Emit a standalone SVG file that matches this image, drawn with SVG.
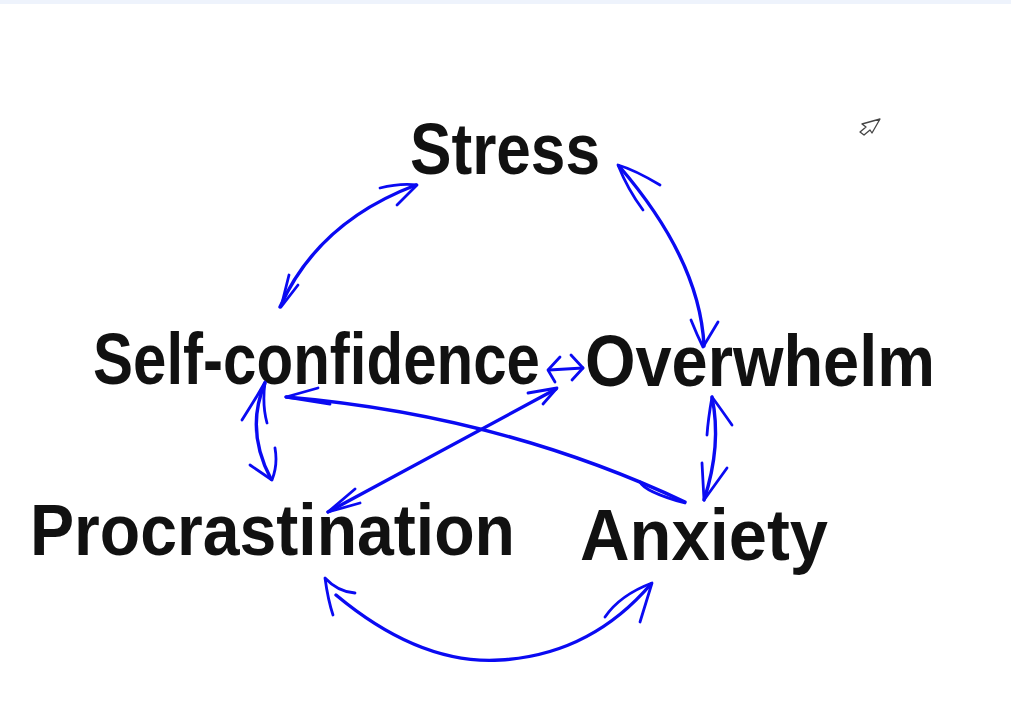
<svg xmlns="http://www.w3.org/2000/svg" width="1011" height="720" viewBox="0 0 1011 720">
<style>
.lbl{font-family:"Liberation Sans",Arial,sans-serif;font-weight:bold;font-size:73px;fill:#111}
.c{fill:none;stroke:#0a0af2;stroke-width:3.4;stroke-linecap:round;stroke-linejoin:round}
.h{fill:none;stroke:#0a0af2;stroke-width:2.8;stroke-linecap:round;stroke-linejoin:round}
</style>
<rect x="0" y="0" width="1011" height="720" fill="#ffffff"/>
<rect x="0" y="0" width="1011" height="4" fill="#eef3fc"/>
<g id="cursor">
<path d="M 880 119 L 862 124 L 866 127 L 860 132 L 864 135 L 870 130 L 872 133 Z" fill="#fff" stroke="#444" stroke-width="1.3" stroke-linejoin="round"/>
</g>
<g id="node-stress"><text class="lbl" x="410" y="174" textLength="190" lengthAdjust="spacingAndGlyphs">Stress</text></g>
<g id="node-selfconfidence"><text class="lbl" transform="translate(93,384) scale(1,1.1)" x="0" y="0" style="font-size:66px" textLength="447" lengthAdjust="spacingAndGlyphs">Self-confidence</text></g>
<g id="node-overwhelm"><text class="lbl" x="585" y="386" textLength="350" lengthAdjust="spacingAndGlyphs">Overwhelm</text></g>
<g id="node-procrastination"><text class="lbl" x="30" y="555" textLength="485" lengthAdjust="spacingAndGlyphs">Procrastination</text></g>
<g id="node-anxiety"><text class="lbl" x="580" y="560" textLength="248" lengthAdjust="spacingAndGlyphs">Anxiety</text></g>
<g id="connectors">
<!-- Stress <-> Self-confidence -->
<path class="c" d="M 280 307 Q 318 222 416 185"/>
<path class="h" d="M 380 188 Q 400 183 417 185 L 397 205"/>
<path class="h" d="M 289 275 L 281 307 L 298 285"/>
<!-- Stress <-> Overwhelm -->
<path class="c" d="M 619 166 Q 700 260 704 346"/>
<path class="h" d="M 660 185 Q 635 170 618 165 Q 628 190 643 210"/>
<path class="h" d="M 691 320 Q 697 335 703 347 L 718 322"/>
<!-- Self-confidence <-> Overwhelm -->
<path class="h" d="M 549 370 L 583 368"/>
<path class="h" d="M 560 357 L 548 370 L 555 382"/>
<path class="h" d="M 571 355 L 583 368 L 572 380"/>
<!-- Self-confidence <-> Procrastination -->
<path class="c" d="M 265 383 Q 245 430 271 479"/>
<path class="h" d="M 242 420 Q 258 395 265 382 Q 262 405 267 423"/>
<path class="h" d="M 250 465 L 272 480 Q 278 465 275 448"/>
<!-- Self-confidence <-> Anxiety -->
<path class="c" d="M 286 397 Q 500 415 685 502"/>
<path class="h" d="M 318 388 L 286 397 L 330 404"/>
<path class="h" d="M 640 482 Q 645 492 685 503"/>
<!-- Overwhelm <-> Procrastination -->
<path class="c" d="M 556 389 L 328 512"/>
<path class="h" d="M 355 489 L 328 512 L 360 503"/>
<path class="h" d="M 528 393 L 557 388 L 543 404"/>
<!-- Overwhelm <-> Anxiety -->
<path class="c" d="M 712 397 Q 722 445 704 500"/>
<path class="h" d="M 732 425 Q 718 405 712 397 Q 708 420 707 435"/>
<path class="h" d="M 702 463 L 704 500 L 727 468"/>
<!-- Procrastination <-> Anxiety -->
<path class="c" d="M 336 595 Q 420 665 500 660 Q 590 655 651 584"/>
<path class="h" d="M 355 593 Q 338 592 325 578 Q 328 600 333 615"/>
<path class="h" d="M 605 617 Q 620 595 652 583 L 640 622"/>
</g>
</svg>
